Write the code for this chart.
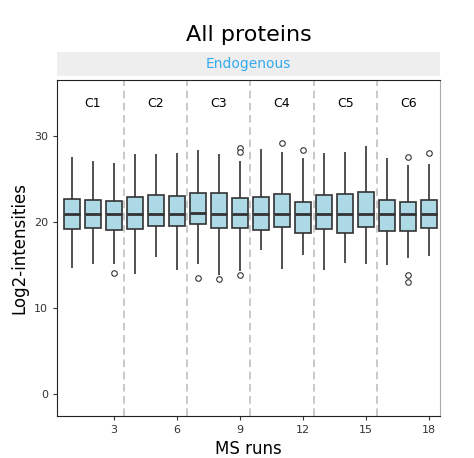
import numpy as np, pandas as pd, seaborn as sns, matplotlib
matplotlib.use("Agg")
import matplotlib.pyplot as plt
from matplotlib.patches import Rectangle

runs = list(range(1, 19))
w_high = [27.6,27.1,26.9,27.9,27.9,28.0,28.4,27.9,27.1,28.5,28.2,27.5,28.0,28.2,28.8,27.5,26.6,26.8]
q3 =     [22.7,22.6,22.5,22.9,23.1,23.0,23.4,23.4,22.8,22.9,23.3,22.3,23.2,23.3,23.5,22.6,22.4,22.6]
med =    [21.0,21.0,21.0,21.0,21.0,21.0,21.1,21.0,21.0,21.0,21.0,20.9,21.0,20.9,21.0,21.0,21.0,21.0]
q1 =     [19.2,19.3,19.1,19.2,19.6,19.5,19.8,19.3,19.3,19.1,19.4,18.8,19.2,18.8,19.4,19.0,19.0,19.3]
w_low =  [14.7,15.2,15.1,14.0,15.9,14.5,15.1,13.9,14.3,16.8,14.6,16.2,14.4,15.3,15.2,15.0,15.8,16.1]
out_run = [3, 7, 8, 9, 9, 9, 11, 12, 17, 17, 17, 18]
out_val = [14.1, 13.5, 13.4, 28.6, 28.1, 13.9, 29.2, 28.4, 27.6, 13.9, 13.1, 28.0]
conditions = ["C1", "C2", "C3", "C4", "C5", "C6"]

rows = []
for r, a, b, c, d, e in zip(runs, w_low, q1, med, q3, w_high):
    for v in (a, b, c, d, e):
        rows.append((r, v))
df = pd.DataFrame(rows, columns=["run", "val"])
dfo = pd.DataFrame({"run": out_run, "val": out_val})

fig = plt.figure(figsize=(4.74, 4.58), dpi=100)
ax = fig.add_axes([0.12, 0.092, 0.808, 0.733])
sns.boxplot(data=df, x="run", y="val", native_scale=True, whis=(0, 100), width=0.75,
            color="#ADD8E6", saturation=1, linecolor="#333333", linewidth=1.2,
            showfliers=False, capprops=dict(linewidth=0),
            medianprops=dict(linewidth=2), ax=ax)
sns.scatterplot(data=dfo, x="run", y="val", marker="o", facecolor="white",
                edgecolor="#333333", s=16, linewidth=0.8, ax=ax, zorder=5)
for i in range(1, 6):
    ax.axvline(3 * i + 0.5, color="#bbbbbb", ls=(0, (5, 3)), lw=1.1)
for i, c in enumerate(conditions):
    ax.text(3 * i + 2, 33.8, c, ha="center", va="center", fontsize=9)
ax.set_xlim(0.3, 18.5)
ax.set_ylim(-2.5, 36.5)
ax.set_xticks([3, 6, 9, 12, 15, 18])
ax.set_yticks([0, 10, 20, 30])
ax.tick_params(labelsize=8, colors="#333333", length=3)
ax.set_xlabel("MS runs", fontsize=12)
ax.set_ylabel("Log2-intensities", fontsize=12)
for s in ax.spines.values():
    s.set_color("#222222")
ax.spines["right"].set_color("#aaaaaa")
fig.patches.append(Rectangle((0.12, 0.834), 0.808, 0.052, transform=fig.transFigure,
                             facecolor="#eeeeee", edgecolor="none"))
fig.text(0.524, 0.860, "Endogenous", ha="center", va="center", fontsize=10, color="#33aaee")
fig.text(0.524, 0.924, "All proteins", ha="center", va="center", fontsize=16)
fig.savefig("out.png", dpi=100)
